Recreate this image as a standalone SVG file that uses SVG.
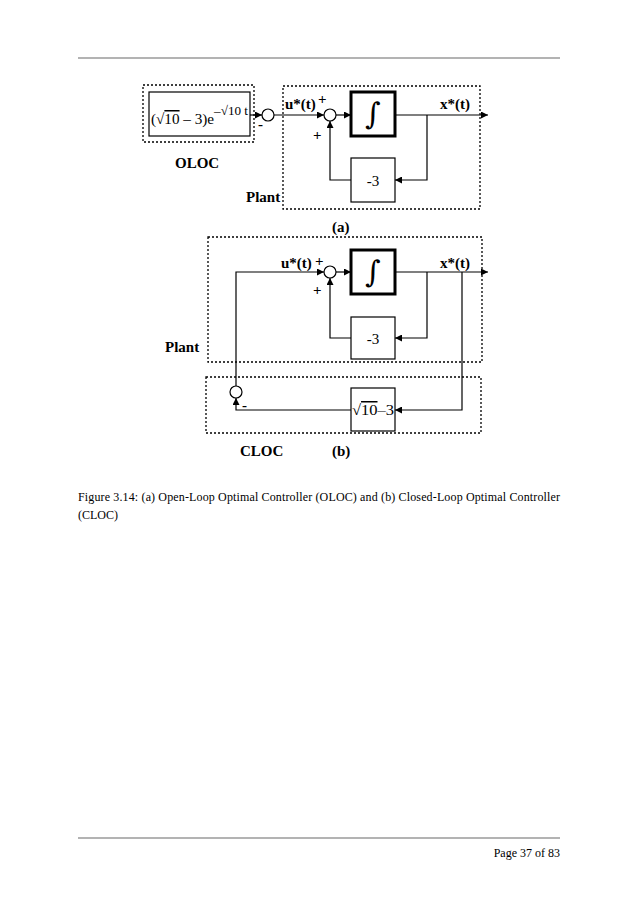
<svg xmlns="http://www.w3.org/2000/svg" width="638" height="902" viewBox="0 0 638 902">
<defs>
<marker id="ar" viewBox="0 0 10 10" refX="10" refY="5" markerWidth="7" markerHeight="7" markerUnits="userSpaceOnUse" orient="auto"><path d="M0,0L10,5L0,10z" fill="#000"/></marker>
<style>
.d{fill:none;stroke:#000;stroke-width:1.3;stroke-dasharray:2,2}
.b{fill:#fff;stroke:#000;stroke-width:1.2}
.t{fill:#fff;stroke:#000;stroke-width:3}
.c{fill:none;stroke:#000;stroke-width:1.2;marker-end:url(#ar)}
text{font-family:"Liberation Serif",serif;font-size:15px;fill:#000}
.w{font-weight:bold}
.i{font-family:"DejaVu Serif",serif;font-size:30px}
.cap{font-family:"Liberation Serif",serif;font-size:12px}
</style>
</defs>
<rect width="638" height="902" fill="#fff"/>
<line x1="78" y1="58" x2="560" y2="58" stroke="#000" stroke-width="0.6"/>
<line x1="78" y1="838" x2="560" y2="838" stroke="#000" stroke-width="0.6"/>
<text class="cap" x="560" y="857" text-anchor="end">Page 37 of 83</text>
<text class="cap" x="78" y="501" textLength="482" lengthAdjust="spacing">Figure 3.14: (a) Open-Loop Optimal Controller (OLOC) and (b) Closed-Loop Optimal Controller</text>
<text class="cap" x="78" y="519">(CLOC)</text>

<g id="a-oloc-frame"><rect class="d" x="143" y="85" width="111" height="57"/><text class="w" x="175" y="168" font-size="16">OLOC</text></g>
<g id="a-oloc"><rect class="b" x="149" y="92" width="101" height="44" stroke-width="1.8"/><text x="151" y="124" font-size="17" textLength="97" lengthAdjust="spacingAndGlyphs">(√<tspan text-decoration="overline">10</tspan> – 3)e<tspan dy="-9" font-size="13">–√10 t</tspan></text></g>
<g id="a-plant-frame"><rect class="d" x="283" y="86" width="197" height="123"/><text class="w" x="246" y="202" font-size="15">Plant</text></g>
<g id="a-circle1"><circle class="b" cx="268" cy="115" r="6"/></g>
<g id="a-sum"><circle class="b" cx="330" cy="115" r="6"/></g>
<g id="a-int"><rect class="t" x="351" y="92" width="44" height="44"/><text class="i" x="373" y="124" text-anchor="middle">∫</text></g>
<g id="a-gain"><rect class="b" x="351" y="158" width="44" height="44"/><text x="373" y="186" text-anchor="middle">-3</text></g>
<g id="a-labels">
<text class="w" x="285" y="109" font-size="14">u*(t)</text><text class="w" x="318" y="104">+</text><text class="w" x="313" y="140">+</text><text class="w" x="258" y="129">-</text>
<text class="w" x="440" y="109">x*(t)</text><text class="w" x="332" y="232">(a)</text></g>

<g id="b-plant-frame"><rect class="d" x="208" y="237" width="274" height="125"/><text class="w" x="165" y="352" font-size="16">Plant</text></g>
<g id="b-cloc-frame"><rect class="d" x="206" y="377" width="275" height="56"/><text class="w" x="240" y="456" font-size="16">CLOC</text><text class="w" x="332" y="456">(b)</text></g>
<g id="b-sum"><circle class="b" cx="330" cy="272" r="6"/></g>
<g id="b-int"><rect class="t" x="351" y="250" width="44" height="44"/><text class="i" x="373" y="282" text-anchor="middle">∫</text></g>
<g id="b-gain"><rect class="b" x="351" y="317" width="44" height="42"/><text x="373" y="344" text-anchor="middle">-3</text></g>
<g id="b-circle"><circle class="b" cx="236" cy="392" r="6"/></g>
<g id="b-k"><rect class="b" x="351" y="388" width="44" height="43"/><text x="352" y="415" font-size="15" textLength="42" lengthAdjust="spacingAndGlyphs">√<tspan text-decoration="overline">10</tspan>–3</text></g>
<g id="b-labels"><text class="w" x="281" y="268" font-size="14">u*(t)</text><text class="w" x="315" y="266">+</text><text class="w" x="313" y="295">+</text><text class="w" x="242" y="410">-</text><text class="w" x="440" y="268">x*(t)</text></g>

<g id="connectors">
<path class="c" d="M250,115H262"/>
<path class="c" d="M274,115H324"/>
<path class="c" d="M336,115H351"/>
<path class="c" d="M395,115H488"/>
<path class="c" d="M427,115V180H395"/>
<path class="c" d="M351,180H330V121"/>
<path class="c" d="M236,386V272H324"/>
<path class="c" d="M336,272H351"/>
<path class="c" d="M395,272H488"/>
<path class="c" d="M427,272V338H395"/>
<path class="c" d="M351,338H330V278"/>
<path class="c" d="M462,272V410H395"/>
<path class="c" d="M351,410H236V398"/>
</g>
</svg>
